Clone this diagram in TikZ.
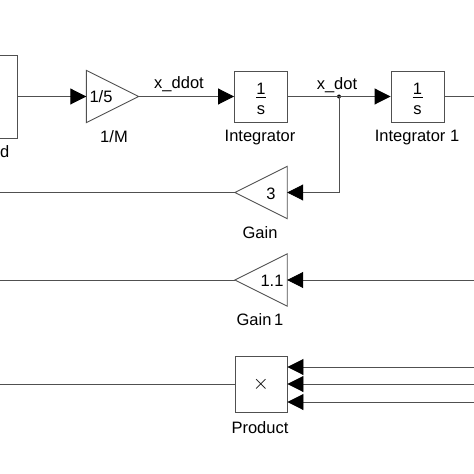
\documentclass[tikz,border=0pt]{standalone}
\usepackage{fontspec}
\setmainfont{Liberation Sans}
\usetikzlibrary{arrows.meta}
\definecolor{ln}{HTML}{505050}
\tikzset{
  wire/.style={draw=ln, line width=0.9bp},
  sig/.style={wire, -{Triangle[length=16bp,width=16bp,fill=black,color=black]}},
  blk/.style={draw=ln, line width=0.9bp, fill=white, minimum width=53bp, minimum height=51bp, inner sep=0pt},
  gbox/.style={draw=none, minimum width=52bp, minimum height=52bp, inner sep=0pt},
  tri/.style={draw=ln, line width=0.9bp, line join=miter},
  lbl/.style={font=\fontsize{16.5bp}{18bp}\selectfont, inner sep=0pt},
  txt/.style={font=\fontsize{16.5bp}{18bp}\selectfont, inner sep=0pt},
  fbar/.style={draw=black, line width=0.9bp},
  dotn/.style={circle, fill=black, minimum size=4bp, inner sep=0pt}
}
\begin{document}
\begin{tikzpicture}[x=1bp,y=-1bp]
\useasboundingbox (0,0) rectangle (474,474);
% left (cut off) block
\node[blk, minimum width=70bp, minimum height=83bp] (src) at (-18,96.5) {};
\node[lbl, anchor=base west] (srcl) at (0,158) {d};
% 1/M gain (pointing right)
\node[gbox] (m) at (112.5,96.5) {};
\draw[tri] (m.north west) -- (m.east) -- (m.south west) -- cycle;
\node[txt] (mt) at (101,97) {1/5};
\node[lbl] (ml) at (114,137) {1/M};
% Integrator
\node[blk] (i1) at (261,96.5) {};
\node[txt, anchor=base] (i1n) at (261,95) {1};
\node[txt, anchor=base] (i1d) at (261,115) {s};
\draw[fbar] (i1.center) ++(-5,1) -- ++(10,0);
\node[lbl] (i1l) at (260,138) {Integrator};
% Integrator 1
\node[blk] (i2) at (417.5,96.5) {};
\node[txt, anchor=base] (i2n) at (417.5,95) {1};
\node[txt, anchor=base] (i2d) at (417.5,115) {s};
\draw[fbar] (i2.center) ++(-5,1) -- ++(10,0);
\node[lbl] (i2l) at (417,138) {Integrator 1};
\coordinate (outr) at (480,96.5);
% branch point
\node[dotn] (br) at (339,96.5) {};
% Gain (pointing left)
\node[gbox] (g) at (261,192.5) {};
\draw[tri] (g.north east) -- (g.west) -- (g.south east) -- cycle;
\node[txt] (gt) at (271,194) {3};
\node[lbl] (gl) at (260,233) {Gain};
\coordinate (gout) at (-5,192.5);
\coordinate (bc) at (339,192.5);
% Gain 1
\node[gbox] (g1) at (261,280) {};
\draw[tri] (g1.north east) -- (g1.west) -- (g1.south east) -- cycle;
\node[txt] (g1t) at (272,280.5) {1.1};
\node[lbl] (g1l) at (260,320) {Gain\,1};
\coordinate (g1in) at (480,280);
\coordinate (g1out) at (-5,280);
% Product
\node[blk, minimum width=52bp, minimum height=56bp] (p) at (261,384) {};
\node[txt, font=\fontsize{20bp}{20bp}\selectfont] (px) at (261,384) {$\times$};
\node[lbl] (pl) at (260,428) {Product};
\coordinate (pa) at (480,367);
\coordinate (pb) at (480,384);
\coordinate (pc) at (480,402);
\coordinate (pout) at (-5,384);
% wires
\draw[sig] (src.east) -- (m.west);
\draw[sig] (m.east) -- (i1.west);
\node[lbl] (xdd) at (179,84) {x\_ddot};
\draw[sig] (i1.east) -- (i2.west);
\node[lbl] (xd) at (337,85) {x\_dot};
\draw[wire] (i2.east) -- (outr);
\draw[sig] (br.center) -- (bc) -- (g.east);
\draw[wire] (g.west) -- (gout);
\draw[sig] (g1in) -- (g1.east);
\draw[wire] (g1.west) -- (g1out);
\draw[sig] (pa) -- (p.east |- pa);
\draw[sig] (pb) -- (p.east |- pb);
\draw[sig] (pc) -- (p.east |- pc);
\draw[wire] (p.west) -- (pout);
\end{tikzpicture}
\end{document}
